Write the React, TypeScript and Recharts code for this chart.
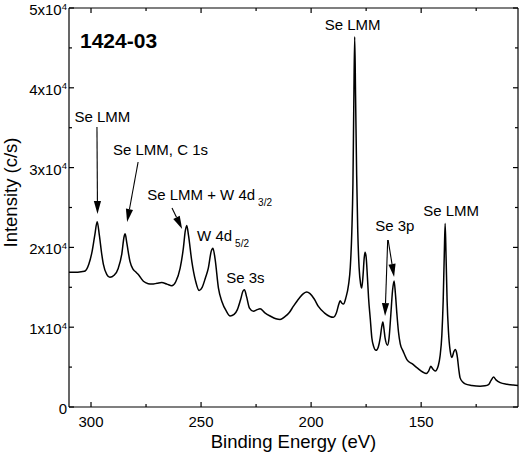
import { LineChart, Line, XAxis, YAxis, ReferenceLine, ReferenceDot } from 'recharts';

// spectrum, binding energy descending
const energy = [
  310, 306, 303, 301, 299.5, 298.3, 297.2, 296.2, 295.2, 294.4, 292.8, 291.4, 289.5, 287.6, 286, 285, 284.5, 283.7,
  282.3, 281, 280, 278.5, 276.2, 274, 272.4, 270, 267.9, 265.5, 263.3, 261.5, 259.5, 258, 257.2, 256.5, 255.7, 254.2,
  252.5, 250.9, 249.5, 248, 246.7, 245.4, 244.6, 243.6, 242.1, 240.5, 238.5, 236.8, 235, 233.5, 232, 231, 230.3,
  229.3, 228, 226.2, 224.5, 223.2, 221, 218.6, 216, 214.1, 212, 210, 208.1, 205.5, 203.5, 202, 200.5, 198.5, 196.7,
  194, 191.5, 189.9, 188.5, 187.5, 186.8, 186, 185.3, 184.2, 183, 182.2, 181.5, 181, 180.6, 180.2, 179.8, 179.3,
  178.8, 178.2, 177.5, 177, 176.4, 175.9, 175.5, 175, 174.4, 173.9, 173.1, 172.4, 171.6, 170.5, 169.5, 168.6, 168,
  167.4, 166.9, 166.4, 165.3, 164.6, 163.8, 163, 162.3, 161.7, 161, 160.3, 159.5, 158.2, 156.4, 154, 151.8, 149.1,
  147.7, 146.6, 145.6, 144.8, 143.6, 142.2, 141.4, 140.6, 140, 139.5, 139.1, 138.7, 138.2, 137.6, 136.8, 136, 135.2,
  134.5, 133.9, 133.5, 132.9, 132.3, 131, 130, 127, 123.2, 121, 119.4, 118.3, 117.1, 116, 114.1, 111, 108.1, 106,
];
const intensity = [
  16900, 16900, 17000, 17900, 19500, 21500, 23200, 21500, 19300, 17900, 16600, 16250, 16500, 17400, 19200, 21300,
  21700, 20500, 18250, 17300, 17000, 16600, 15750, 15450, 15400, 15500, 15600, 15400, 15200, 15700, 17400, 20000,
  22000, 22750, 21500, 18250, 15800, 14600, 15000, 16200, 17400, 19500, 19900, 18500, 14900, 13200, 12000, 11400,
  11600, 12200, 13500, 14500, 14700, 13800, 12400, 12000, 12200, 12300, 11800, 11400, 11050, 10950, 11300, 11800,
  12600, 13600, 14200, 14400, 14200, 13500, 12600, 11800, 11350, 11250, 11800, 12800, 13300, 13000, 12900, 13700,
  15300, 17500, 22000, 28000, 38000, 46400, 39000, 29000, 22000, 17500, 15400, 14900, 16500, 18600, 19400, 18800,
  16200, 13700, 11000, 8650, 7600, 7100, 7500, 8650, 9900, 10650, 9800, 8650, 7750, 8600, 11500, 14600, 15800,
  14200, 11600, 9400, 7900, 7000, 5900, 5400, 4900, 4350, 4200, 4500, 5100, 4800, 4500, 5200, 6400, 9000, 13250,
  19000, 23000, 19000, 13250, 9500, 7000, 6200, 6900, 7200, 6800, 6150, 4700, 3650, 3100, 2900, 2700, 2600, 2650,
  2800, 3300, 3750, 3400, 3050, 2850, 2750, 2700,
];

const xTicks = [300, 275, 250, 225, 200, 175, 150, 125];
const xLabelled = [300, 250, 200, 150];
const yTicks = [0, 5000, 10000, 15000, 20000, 25000, 30000, 35000, 40000, 45000, 50000];
const yLabelled = [0, 10000, 20000, 30000, 40000, 50000];

// annotations: text, energy, intensity, anchor, subscript
const noteText = ['Se LMM', 'Se LMM, C 1s', 'Se LMM + W 4d', 'W 4d', 'Se 3s', 'Se LMM', 'Se 3p', 'Se LMM'];
const noteSub = ['', '', '3/2', '5/2', '', '', '', ''];
const noteE = [294.8, 290, 274.5, 251.8, 238.6, 181.1, 170.9, 149.1];
const noteI = [35750, 31580, 25940, 20800, 15540, 47240, 22050, 23930];
const noteAnchor = ['middle', 'start', 'start', 'start', 'start', 'middle', 'start', 'start'];

// arrows: from [E, I] to [E, I]
const arrowFrom = [[297.3, 35090], [278.6, 30700], [263.2, 24940], [165.2, 20930], [165, 20930]];
const arrowTo = [[297.05, 24190], [283.6, 23180], [258.6, 22300], [166.4, 11400], [162.3, 16290]];

const sampleName = '1424-03';

const data = energy.map((e, k) => ({ e, i: intensity[k] }));
const FONT = "'Liberation Sans', Arial, Helvetica, sans-serif";

function BottomTick({ x, y, payload }: any) {
  const major = xLabelled.includes(payload.value);
  return (
    <g>
      <line x1={x} y1={y} x2={x} y2={y - (major ? 5 : 3)} stroke="#000" strokeWidth={1.2} />
      {major && (
        <text x={x} y={y + 20} textAnchor="middle" fontSize={15} fontFamily={FONT} fill="#000">
          {payload.value}
        </text>
      )}
    </g>
  );
}

function TopTick({ x, y, payload }: any) {
  const major = xLabelled.includes(payload.value);
  return <line x1={x} y1={y} x2={x} y2={y + (major ? 5 : 3)} stroke="#000" strokeWidth={1.2} />;
}

function LeftTick({ x, y, payload }: any) {
  const major = yLabelled.includes(payload.value);
  const n = payload.value / 10000;
  return (
    <g>
      <line x1={x} y1={y} x2={x + (major ? 5 : 3)} y2={y} stroke="#000" strokeWidth={1.2} />
      {major && (
        <text x={x - 2} y={y + 7} textAnchor="end" fontSize={15} fontFamily={FONT} fill="#000">
          {n === 0 ? '0' : `${n}x10`}
          {n !== 0 && (
            <tspan fontSize={9.5} dy={-5.5}>
              4
            </tspan>
          )}
        </text>
      )}
    </g>
  );
}

function RightTick({ x, y, payload }: any) {
  const major = yLabelled.includes(payload.value);
  return <line x1={x} y1={y} x2={x - (major ? 5 : 3)} y2={y} stroke="#000" strokeWidth={1.2} />;
}

function Arrow(p: any) {
  const { x1, y1, x2, y2 } = p;
  const ang = Math.atan2(y2 - y1, x2 - x1);
  const len = 13;
  const hw = 3.6;
  const bx = x2 - len * Math.cos(ang);
  const by = y2 - len * Math.sin(ang);
  const px = -Math.sin(ang) * hw;
  const py = Math.cos(ang) * hw;
  return (
    <g>
      <line x1={x1} y1={y1} x2={bx} y2={by} stroke="#000" strokeWidth={1.1} />
      <polygon points={`${x2},${y2} ${bx + px},${by + py} ${bx - px},${by - py}`} fill="#000" />
    </g>
  );
}

function Note(text: string, sub: string, anchor: any, size = 15, bold = false) {
  return (p: any) => (
    <text
      x={p.cx}
      y={p.cy}
      textAnchor={anchor}
      fontSize={size}
      fontWeight={bold ? 'bold' : 'normal'}
      fontFamily={FONT}
      fill="#000"
    >
      {text}
      {sub && (
        <tspan fontSize={10} dx={3} dy={6}>
          {sub}
        </tspan>
      )}
    </text>
  );
}

export default function App() {
  return (
    <div style={{ position: 'absolute', left: 0, top: 0, background: '#fff' }}>
      <LineChart width={520} height={458} data={data} margin={{ top: 0, right: 0, bottom: 0, left: 0 }}>
        <XAxis
          dataKey="e"
          type="number"
          domain={[106, 310]}
          reversed
          allowDataOverflow
          ticks={xTicks}
          interval={0}
          height={51}
          tickSize={0}
          tickMargin={0}
          tickLine={false}
          axisLine={{ stroke: '#000', strokeWidth: 1.2 }}
          tick={BottomTick}
          label={{
            content: ({ viewBox }: any) => (
              <text
                x={viewBox.x + viewBox.width / 2}
                y={viewBox.y + 41}
                textAnchor="middle"
                fontSize={18.5}
                fontFamily={FONT}
                fill="#000"
              >
                Binding Energy (eV)
              </text>
            ),
          }}
        />
        <XAxis
          xAxisId="top"
          orientation="top"
          dataKey="e"
          type="number"
          domain={[106, 310]}
          reversed
          allowDataOverflow
          ticks={xTicks}
          interval={0}
          height={8}
          tickSize={0}
          tickMargin={0}
          tickLine={false}
          axisLine={{ stroke: '#000', strokeWidth: 1.2 }}
          tick={TopTick}
        />
        <YAxis
          type="number"
          domain={[0, 50000]}
          allowDataOverflow
          ticks={yTicks}
          interval={0}
          width={69}
          tickSize={0}
          tickMargin={0}
          tickLine={false}
          axisLine={{ stroke: '#000', strokeWidth: 1.2 }}
          tick={LeftTick}
          label={{
            content: ({ viewBox }: any) => (
              <text
                x={17}
                y={viewBox.y + viewBox.height / 2 - 15}
                transform={`rotate(-90, 17, ${viewBox.y + viewBox.height / 2 - 15})`}
                textAnchor="middle"
                fontSize={18.5}
                fontFamily={FONT}
                fill="#000"
              >
                Intensity (c/s)
              </text>
            ),
          }}
        />
        <YAxis
          yAxisId="right"
          orientation="right"
          type="number"
          domain={[0, 50000]}
          allowDataOverflow
          ticks={yTicks}
          interval={0}
          width={2}
          tickSize={0}
          tickMargin={0}
          tickLine={false}
          axisLine={{ stroke: '#000', strokeWidth: 1.2 }}
          tick={RightTick}
        />
        <Line
          dataKey="i"
          type="monotone"
          stroke="#000"
          strokeWidth={1.5}
          dot={false}
          activeDot={false}
          isAnimationActive={false}
        />
        {arrowFrom.map((a, k) => (
          <ReferenceLine
            key={`arrow-${k}`}
            segment={[
              { x: a[0], y: a[1] },
              { x: arrowTo[k][0], y: arrowTo[k][1] },
            ]}
            shape={Arrow}
          />
        ))}
        {noteText.map((t, k) => (
          <ReferenceDot
            key={`note-${k}`}
            x={noteE[k]}
            y={noteI[k]}
            r={1}
            shape={Note(t, noteSub[k], noteAnchor[k])}
          />
        ))}
        <ReferenceDot x={305} y={44990} r={1} shape={Note(sampleName, '', 'start', 21, true)} />
      </LineChart>
    </div>
  );
}
